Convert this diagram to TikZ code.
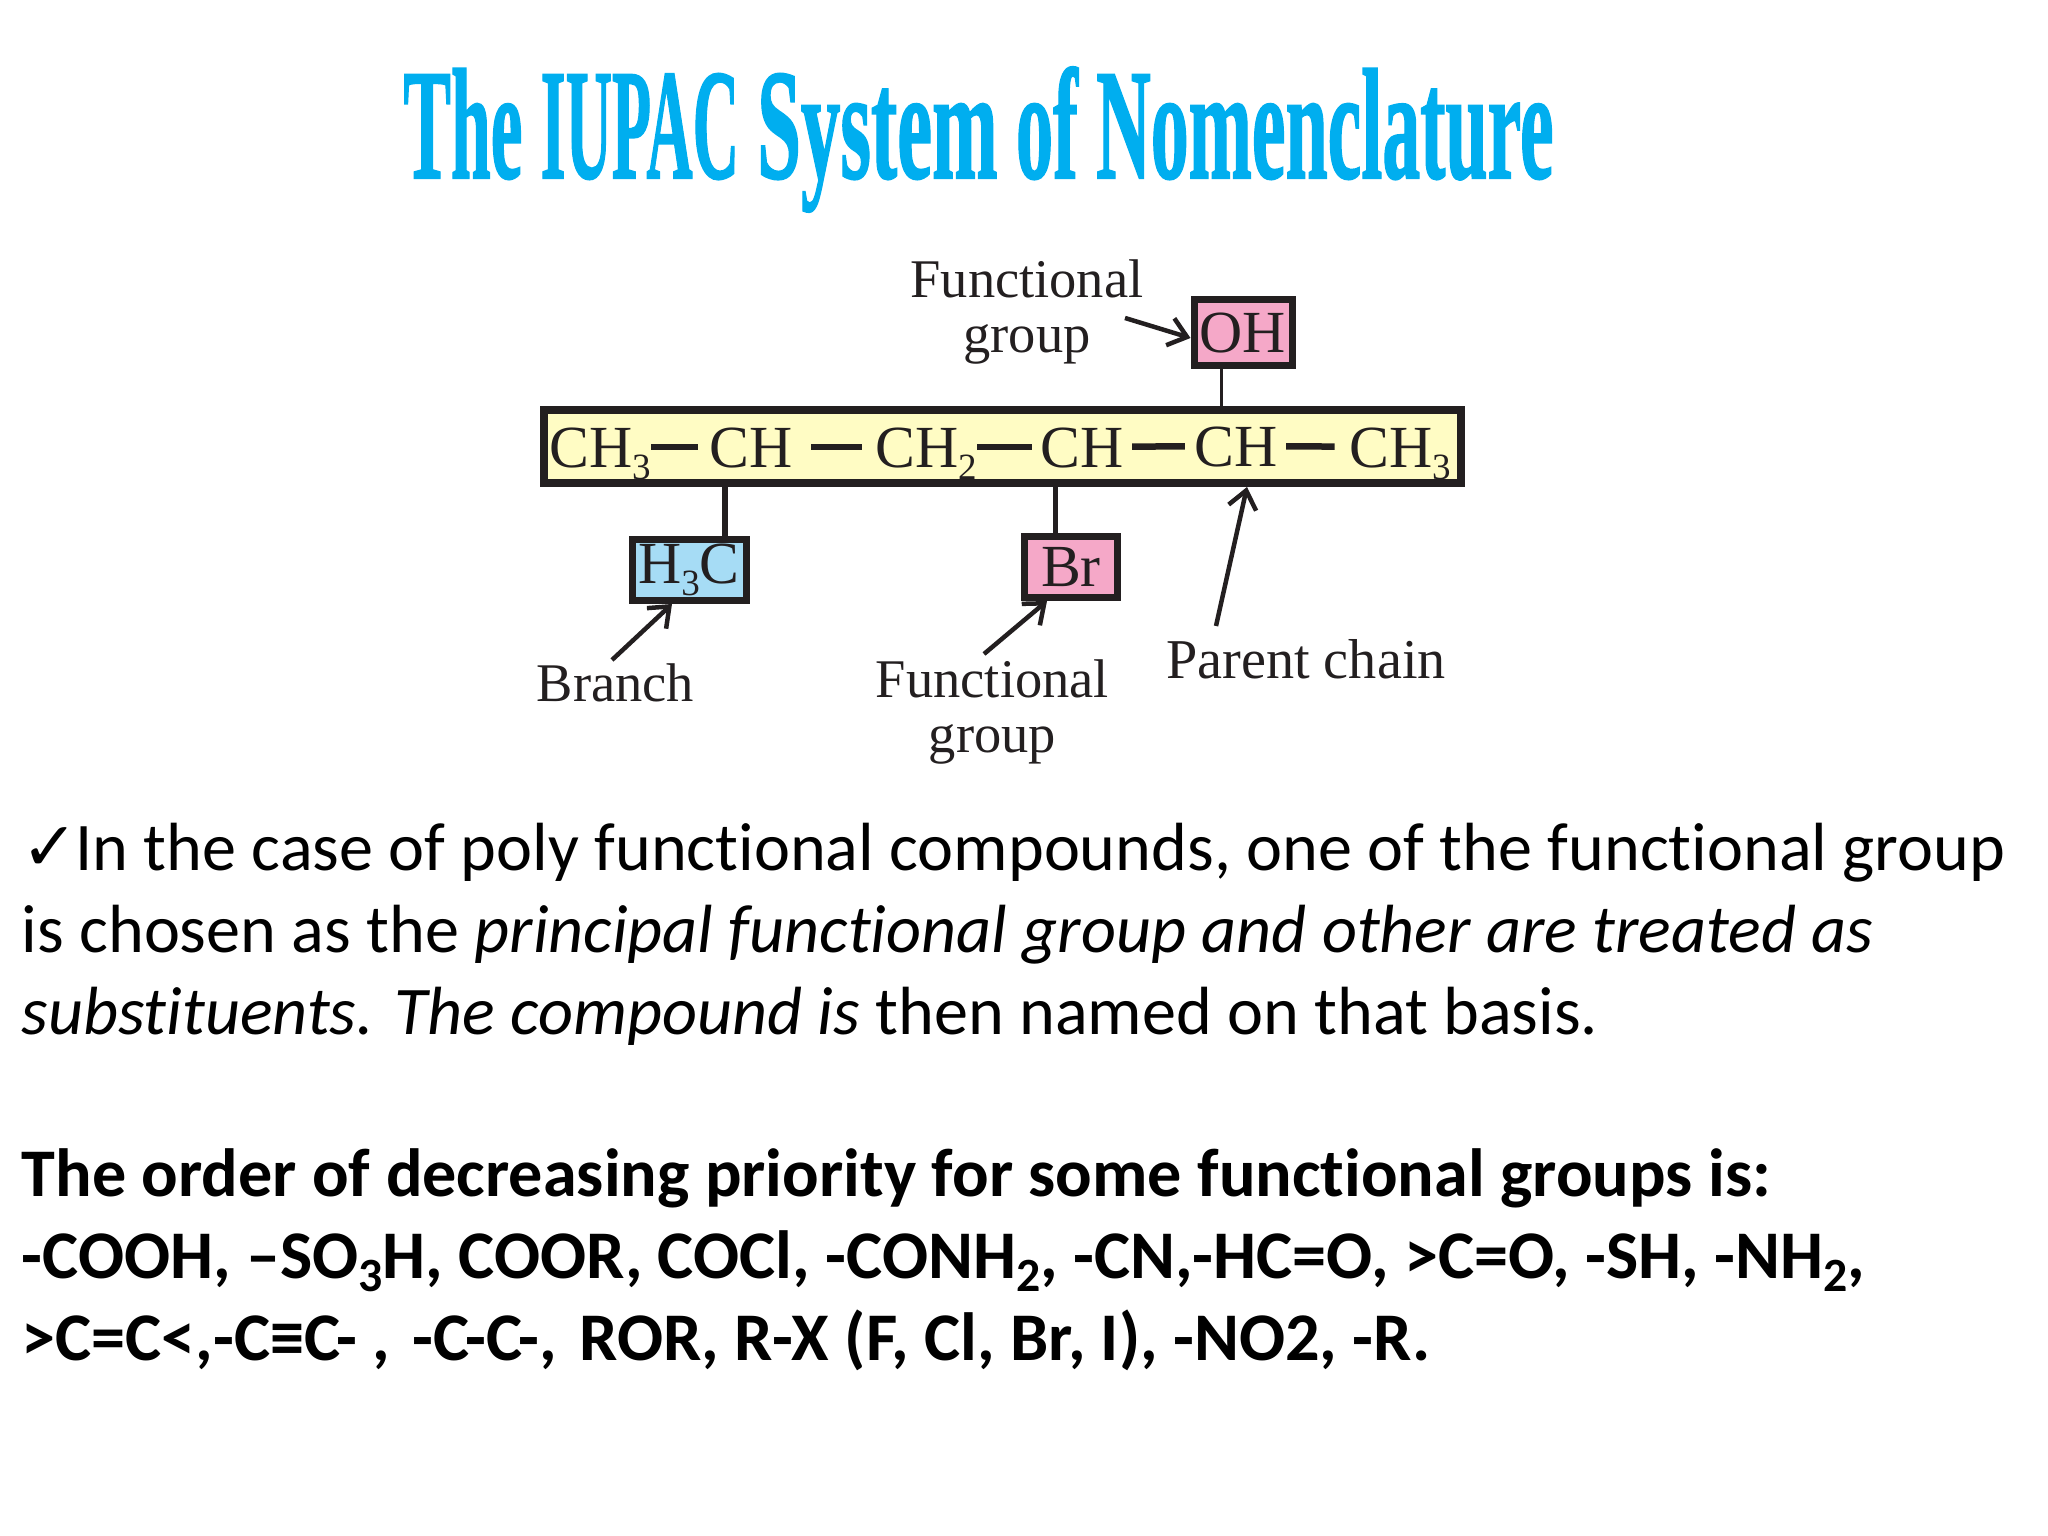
\documentclass[tikz,border=0pt]{standalone}
\usepackage{fontspec}
\usepackage{graphicx}
\usepackage{tikz}
\usetikzlibrary{arrows.meta}
\setmainfont{Liberation Serif}
\newfontfamily\bodyfont[Ligatures=NoCommon]{Carlito}
\newfontfamily\tickfont{DejaVu Sans}
\newfontfamily\titlefont[FakeBold=1.4]{Liberation Serif Bold}
\definecolor{titleblue}{HTML}{00AEEF}
\definecolor{chainyellow}{HTML}{FFFCC4}
\definecolor{grouppink}{HTML}{F5A8C8}
\definecolor{branchblue}{HTML}{A6DCF5}
\definecolor{inkdark}{HTML}{231F20}
\newcommand{\sbs}[1]{\raisebox{-0.45ex}{\scalebox{0.62}{#1}}}
\newcommand{\bsbs}[1]{\raisebox{-0.4ex}{\scalebox{0.7}{#1}}}
\newcommand{\tword}[2]{\scalebox{#1}[1]{#2}}
\tikzstyle{chainbox}=[rectangle,draw=inkdark,line width=0.08cm,fill=chainyellow,minimum width=9.17cm,minimum height=0.73cm,inner sep=0pt]
\tikzstyle{groupbox}=[rectangle,draw=inkdark,line width=0.07cm,inner sep=0pt,text=inkdark,font=\fontsize{17}{20}\selectfont]
\tikzstyle{unit}=[inner sep=0pt,text=inkdark,text height=11.4pt,text depth=0pt,font=\fontsize{17}{20}\selectfont]
\tikzstyle{tag}=[inner sep=0pt,align=center,text=inkdark,font=\fontsize{15.5}{15.9}\selectfont]
\tikzstyle{para}=[anchor=north west,inner sep=0pt,align=left,text=black,font=\bodyfont\fontsize{19.4}{23.33}\selectfont]
\tikzstyle{bond}=[line width=0.065cm,draw=inkdark]
\tikzstyle{stem}=[line width=0.055cm,draw=inkdark]
\tikzstyle{pointer}=[line width=0.045cm,draw=inkdark,-{Straight Barb[length=5pt,width=8pt]}]

\begin{document}
\begin{tikzpicture}

  \useasboundingbox (0,0) rectangle (20.48,15.36);

  \node[text=titleblue,inner sep=0pt,anchor=base] (title) at (9.785,13.58) {\resizebox{11.5cm}{1.11cm}{\titlefont \tword{0.98}{The} \tword{0.88}{IUPAC} \tword{1.08}{System} \tword{1.02}{of} \tword{1.04}{Nomenclature}}};

  \node[chainbox] (chain) at (10.025,10.895) {};
  \node[unit] (CHa) at (6.00,10.89) {CH\sbs{3}};
  \node[unit] (CHb) at (7.51,10.89) {CH};
  \node[unit] (CHc) at (9.26,10.89) {CH\sbs{2}};
  \node[unit] (CHd) at (10.82,10.89) {CH};
  \node[unit] (CHe) at (12.36,10.90) {CH};
  \node[unit] (CHf) at (14.00,10.89) {CH\sbs{3}};

  \draw[bond,shorten >=0.11cm] (CHa)--(CHb);
  \draw[bond,shorten <=0.18cm,shorten >=0.13cm] (CHb)--(CHc);
  \draw[bond,shorten <=0cm,shorten >=0.08cm] (CHc)--(CHd);
  \draw[bond,shorten <=0.08cm,shorten >=0.09cm] (CHd)--(CHe);
  \draw[bond,shorten <=0.08cm,shorten >=0.14cm] (CHe)--(CHf);

  \node[groupbox,fill=grouppink,minimum width=0.98cm,minimum height=0.66cm] (OH) at (12.43,12.03) {OH};
  \node[groupbox,fill=branchblue,minimum width=1.14cm,minimum height=0.61cm] (HC) at (6.89,9.66) {H\sbs{3}C};
  \node[groupbox,fill=grouppink,minimum width=0.93cm,minimum height=0.61cm] (Br) at (10.71,9.69) {Br};

  \draw[stem,line width=0.035cm] ([xshift=-0.215cm]OH.south)--([xshift=-0.215cm,yshift=-0.08cm]OH.south |- chain.north);
  \draw[stem] ([xshift=0.36cm]HC.north)--([xshift=0.36cm]HC.north |- chain.south);
  \draw[stem] ([xshift=-0.155cm]Br.north)--([xshift=-0.155cm]Br.north |- chain.south);

  \node[tag] (fgroupA) at (10.27,12.24) {Functional\\group};
  \node[tag] (branch) at (6.155,8.53) {Branch};
  \node[tag] (fgroupB) at (9.925,8.24) {Functional\\group};
  \node[tag,font=\fontsize{16}{18}\selectfont] (parent) at (13.06,8.77) {Parent chain};

  \coordinate (tailA) at (11.25,12.18);
  \coordinate (tailB) at (6.12,8.76);
  \coordinate (tailC) at (9.84,8.82);
  \coordinate (tailD) at (12.16,9.10);
  \draw[pointer] (tailA)--([yshift=-0.05cm]OH.west);
  \draw[pointer] (tailB)--([xshift=-0.17cm]HC.south);
  \draw[pointer] (tailC)--([xshift=-0.24cm]Br.south);
  \draw[pointer] (tailD)--([xshift=2.445cm]chain.south);

  \node[para] (intro) at (0.21,7.14) {{\tickfont\char"2713}\kern-1pt In the case of poly functional compounds, one of the functional group\\
    is chosen as the \textit{principal functional group and other are treated as}\\
    \textit{substituents. The compound is} then named on that basis.};

  \node[para,font=\bodyfont\bfseries\fontsize{19.4}{23.33}\selectfont] (order) at (0.21,3.88) {The order of decreasing priority for some functional groups is:\\
    -COOH, –SO\bsbs{3}H, COOR, COCl, -CONH\bsbs{2}, -CN,-HC=O, >C=O, -SH, -NH\bsbs{2},\\
    >C=C<,-C≡C- , \kern1.9pt-C-C-, \kern1.9pt ROR, R-X (F, Cl, Br, I), -NO2, -R.};

\end{tikzpicture}
\end{document}
